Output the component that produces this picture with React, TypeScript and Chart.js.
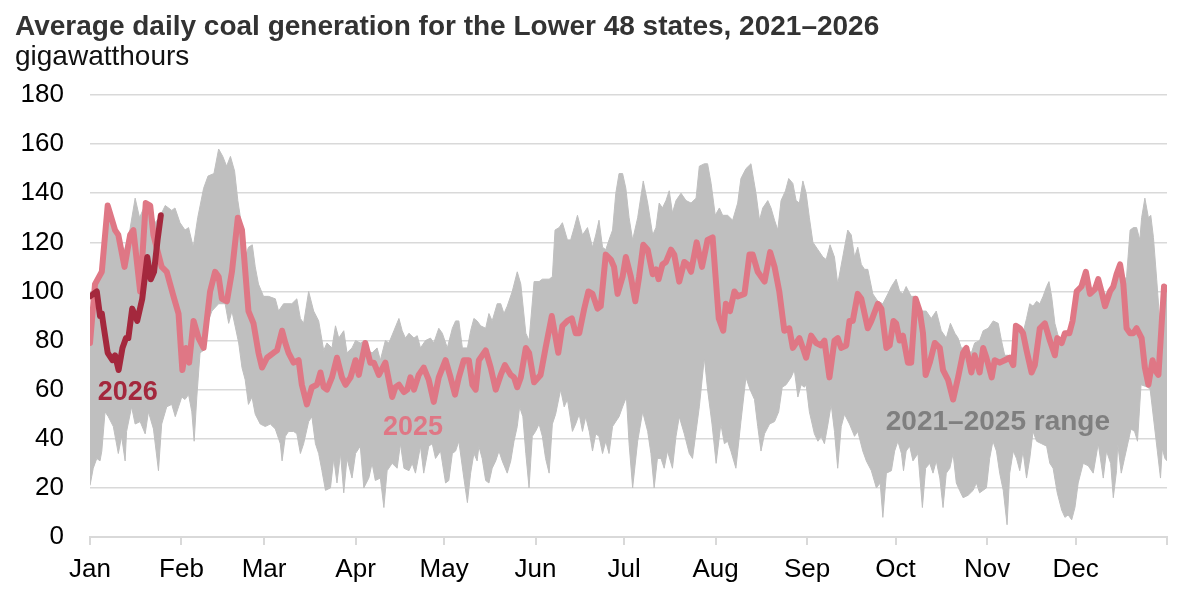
import { useEffect, useRef } from 'react';
import { Chart, registerables } from 'chart.js';

Chart.register(...registerables);

const FONT = '"Liberation Sans", Arial, Helvetica, sans-serif';

const TITLE = 'Average daily coal generation for the Lower 48 states, 2021–2026';
const UNITS = 'gigawatthours';

// day-of-year where each month starts (last one closes the axis)
const monthStarts = [0, 31, 59, 90, 120, 151, 181, 212, 243, 273, 304, 334, 365];
const monthLabels = ['Jan', 'Feb', 'Mar', 'Apr', 'May', 'Jun', 'Jul', 'Aug', 'Sep', 'Oct', 'Nov', 'Dec', ''];

// [day of year, GWh]
const gen2026: [number, number][] = [
  [0, 98], [2.3, 100], [3.4, 90], [4, 91], [4.6, 86], [6, 75], [7.6, 72], [8.5, 74], [9.7, 68], [11, 77],
  [12.2, 81], [13, 81], [14.3, 93], [16, 88], [17.7, 97], [19.4, 114], [20.6, 105], [21.7, 108], [22.9, 121], [24, 131],
];

const gen2025: [number, number][] = [
  [0, 79], [1.7, 103], [4, 108], [6, 135], [8.5, 125], [9.6, 123], [11.7, 110], [13.6, 123], [14.7, 125], [17, 100],
  [18.9, 136], [20.4, 135], [21.5, 123], [24.3, 110], [26, 108], [28.3, 98], [30, 91], [31.3, 68], [32.5, 77], [33.6, 71],
  [35.1, 88], [36.8, 81], [38.5, 77], [40.7, 100], [42.4, 108], [43.6, 106], [44.7, 97], [46.4, 96], [48.1, 108], [50.1, 130],
  [51.5, 125], [53.7, 92], [55.4, 87], [57.1, 75], [58.3, 69], [60, 73], [62.2, 75], [63.4, 76], [65.1, 84], [66.2, 79],
  [67.3, 75], [69, 71], [70.7, 72], [71.8, 62], [73.5, 54], [75.2, 61], [76.9, 62], [78.1, 67], [79.2, 61], [80.3, 60],
  [82, 65], [83.7, 73], [85.4, 65], [86.6, 62], [88.3, 65], [90, 72], [91.1, 66], [93.3, 79], [95, 71], [96.2, 71],
  [97.9, 66], [100.1, 71], [102.4, 57], [103.5, 61], [104.7, 62], [106.4, 59], [107.5, 60], [108.6, 65], [109.8, 60], [111.4, 66],
  [113.1, 69], [114.8, 64], [116.5, 55], [118.2, 65], [120.5, 72], [122.2, 65], [123.7, 58], [125, 65], [126.7, 72], [128.4, 72],
  [129.6, 62], [130.7, 60], [131.8, 72], [134.1, 76], [135.8, 69], [137.5, 60], [139.2, 66], [140.6, 70], [142.6, 66], [143.7, 65],
  [144.8, 61], [146, 65], [147.7, 77], [148.8, 75], [150.5, 63], [152.7, 66], [154.4, 77], [156.5, 90], [158.7, 75], [160.1, 86],
  [161.8, 88], [163.3, 89], [164.6, 83], [165.8, 83], [167.5, 93], [168.9, 100], [170.3, 99], [172, 93], [173.1, 94], [174.8, 115],
  [176.5, 113], [177.6, 110], [178.8, 99], [180.5, 106], [181.6, 114], [183.3, 106], [184.8, 96], [186.1, 106], [187.5, 119], [189, 117],
  [190.7, 107], [191.8, 109], [192.7, 105], [194, 111], [195.2, 112], [196.9, 117], [198, 115], [199.7, 104], [201.4, 112], [202.5, 111],
  [203.7, 108], [205.6, 120], [207.4, 110], [209.3, 121], [211, 122], [213.1, 89], [214.6, 84], [215.5, 95], [216.9, 92], [218.4, 100],
  [219.5, 98], [221.8, 99], [223.5, 115], [224.6, 115], [226.3, 108], [228.6, 104], [230.5, 116], [232, 110], [233.6, 100], [235.3, 84],
  [237, 85], [238.2, 77], [240.4, 81], [241.6, 77], [242.7, 73], [244.4, 82], [246.1, 79], [247.8, 78], [248.9, 80], [250.6, 65],
  [252.3, 80], [253.4, 81], [254.6, 77], [256.3, 78], [257.4, 88], [258.5, 88], [260.2, 99], [261.4, 97], [263.6, 85], [264.8, 88],
  [267, 95], [268.2, 93], [269.9, 77], [271, 78], [272.3, 88], [273.2, 87], [274.4, 80], [275.5, 82], [277.2, 71], [278.3, 71],
  [279.8, 97], [281.2, 92], [282.3, 83], [283.2, 66], [284.6, 71], [286.3, 79], [288, 77], [289.1, 68], [290.8, 64], [292.5, 56],
  [294.2, 65], [295.9, 75], [297, 77], [298.7, 67], [299.8, 74], [301.5, 67], [302.7, 77], [303.8, 73], [305.6, 65], [306.6, 72],
  [308.3, 71], [310, 72], [311.7, 73], [312.9, 70], [313.8, 86], [315.1, 85], [316.2, 83], [317.4, 76], [319.1, 67], [320.2, 70],
  [321.9, 85], [323.6, 87], [325.3, 80], [327, 74], [327.8, 81], [329.3, 79], [330.4, 83], [331.9, 83], [333, 88], [334.4, 100],
  [336, 102], [337.5, 108], [338.9, 99], [340.6, 101], [341.7, 105], [342.8, 100], [344, 94], [345.7, 100], [346.8, 102], [347.9, 107],
  [349.1, 111], [350.2, 103], [351.3, 85], [352.5, 83], [353.6, 83], [354.7, 85], [356.4, 81], [357.5, 69], [358.7, 62], [360.1, 72],
  [360.9, 68], [362.1, 66], [363.2, 87], [364, 102], [365, 101],
];

// 2021–2025 range, top and bottom edges
const rangeHigh: [number, number][] = [
  [0, 80], [1.7, 103], [4, 108], [6, 135], [8.5, 126], [10, 123], [11.5, 116], [13.5, 125], [15.3, 138], [16.8, 130],
  [18.9, 136], [20.4, 135], [22, 128], [23.5, 130], [25.5, 135], [27.7, 133], [28.8, 134], [30.5, 128], [32.2, 125], [33.4, 126],
  [35, 118], [36.5, 130], [38.5, 142], [40, 147], [42, 148], [43.6, 158], [45, 155], [46.3, 151], [47.6, 155], [49, 149],
  [50.1, 137], [51.5, 126], [52.6, 114], [53.7, 118], [55, 119], [56, 110], [57.1, 103], [58.8, 98], [60.5, 98], [62.8, 97],
  [63.9, 92], [65.6, 95], [68.4, 95], [70.1, 97], [71.3, 89], [72.4, 87], [74.1, 100], [75.8, 92], [77.5, 88], [79.2, 76],
  [80.3, 79], [82, 77], [83.2, 86], [84.3, 81], [86, 84], [87.1, 75], [88.8, 77], [90, 80], [91.6, 79], [93.3, 80],
  [93.9, 76], [95.6, 75], [97.3, 77], [98.4, 72], [100.1, 80], [101.3, 79], [103, 84], [104.7, 89], [105.8, 84], [106.9, 81],
  [108.1, 83], [109.8, 81], [110.9, 82], [112, 77], [113.7, 80], [115.4, 81], [116.5, 79], [118.2, 85], [119.4, 83], [121.1, 77],
  [122.8, 85], [123.9, 88], [125, 88], [126.2, 77], [127.9, 77], [129, 84], [130.1, 89], [131.2, 88], [132.4, 86], [134.1, 85],
  [135.2, 91], [136.3, 88], [138, 95], [139.2, 95], [140.3, 91], [141.4, 94], [143.1, 100], [144.8, 108], [146, 103], [147.7, 83],
  [148.8, 80], [150.5, 104], [152.2, 104], [153.3, 105], [155.6, 105], [156.7, 106], [157.6, 125], [159, 126], [160.1, 128], [161.8, 121],
  [162.9, 121], [164.1, 126], [165.2, 131], [166.9, 123], [168.6, 126], [170.3, 118], [171.4, 123], [172.5, 129], [173.7, 118], [174.8, 117],
  [175.9, 121], [177.1, 125], [178.2, 140], [179.3, 148], [180.5, 148], [181.6, 142], [182.7, 130], [183.9, 121], [185.6, 130], [187.5, 145],
  [189, 136], [190.7, 123], [191.8, 126], [192.9, 136], [194, 134], [195.2, 137], [196.3, 141], [197.4, 132], [198.6, 137], [200.3, 140],
  [202, 137], [203.7, 136], [205.4, 138], [206.5, 151], [208.2, 152], [209.3, 152], [210.5, 144], [211.9, 131], [213.3, 134], [214.4, 131],
  [216.1, 131], [217.8, 129], [219.5, 136], [220.6, 146], [222.3, 150], [224, 152], [225.7, 140], [226.9, 129], [228, 134], [229.7, 137],
  [230.8, 134], [232, 129], [233.1, 125], [234.2, 137], [235.7, 141], [236.8, 146], [238.2, 144], [239.3, 137], [240.4, 136], [241.6, 145],
  [242.7, 140], [243.8, 130], [245, 120], [246.7, 117], [248.4, 114], [249.5, 113], [250.8, 119], [252.3, 114], [253.4, 103], [255.1, 114],
  [256.8, 125], [258, 123], [259.1, 114], [260.2, 118], [261.4, 111], [262.5, 109], [263.6, 109], [265.3, 99], [267, 96], [268.7, 95],
  [270.4, 99], [271.6, 102], [273.2, 105], [274.4, 100], [275.5, 99], [276.6, 102], [278.3, 98], [280, 98], [281.2, 92], [283.4, 92],
  [285.1, 89], [286.8, 92], [288.5, 84], [290.2, 81], [291.6, 87], [293.1, 83], [294.2, 81], [295.3, 77], [297, 77], [298.7, 75],
  [299.8, 79], [301.5, 80], [302.7, 84], [304.4, 85], [306.1, 88], [307.8, 87], [308.9, 80], [310, 74], [311.2, 74], [312.6, 72],
  [313.8, 86], [315.1, 86], [316.2, 83], [317.4, 89], [318.5, 95], [319.6, 94], [320.8, 96], [321.9, 95], [323, 98], [324.2, 102],
  [325, 104], [325.9, 98], [327, 87], [328.1, 82], [329.3, 79], [331, 84], [332.1, 85], [333, 88], [334.4, 100], [336, 102],
  [337.5, 108], [338.9, 100], [340.6, 102], [341.7, 106], [343.4, 98], [345, 100], [346.8, 102], [348.2, 108], [349.1, 111], [350.2, 104],
  [351.3, 106], [352.5, 125], [353.6, 126], [354.7, 126], [355.8, 121], [356.4, 130], [357.5, 138], [358.7, 130], [359.5, 131], [360.4, 122],
  [361.5, 105], [362.6, 87], [364, 102], [365, 101],
];

const rangeLow: [number, number][] = [
  [0, 21], [1.1, 28], [2.3, 32], [3.4, 31], [4, 35], [5.1, 51], [6.2, 49], [7.9, 45], [9.6, 34], [10.7, 41],
  [11.9, 31], [12.4, 43], [14.1, 53], [15.3, 46], [17, 47], [18.7, 42], [19.8, 51], [21.5, 44], [23.2, 27], [24.3, 46],
  [26, 53], [27.7, 54], [28.9, 49], [30, 53], [31.1, 57], [32.2, 56], [33.4, 58], [34.5, 51], [35.3, 39], [36.2, 57],
  [37.3, 75], [38.5, 76], [39.5, 86], [41.3, 92], [43.6, 95], [45.8, 95], [47, 87], [48.1, 92], [50.4, 79], [51.5, 69],
  [52.6, 64], [53.7, 54], [54.9, 57], [56, 50], [57.7, 46], [59.4, 45], [61.1, 46], [62.8, 44], [64.5, 38], [65.1, 31],
  [66.2, 41], [67.3, 43], [69, 43], [70.1, 42], [71.3, 34], [72.4, 38], [74.1, 47], [75.2, 49], [76.4, 38], [77.5, 34],
  [78.6, 27], [79.8, 19], [81.5, 20], [82.6, 32], [83.7, 22], [84.9, 34], [86, 18], [87.1, 32], [88.8, 24], [90, 34],
  [91.6, 37], [92.8, 20], [94.5, 24], [95.6, 30], [96.7, 23], [98.4, 24], [99.6, 12], [100.7, 27], [102.4, 30], [104.1, 28],
  [105.2, 38], [106.4, 28], [108.1, 27], [109.2, 30], [110.3, 26], [112, 37], [113.1, 26], [114.8, 37], [116, 38], [117.1, 32],
  [118.8, 35], [120.5, 22], [121.6, 23], [122.8, 34], [123.9, 35], [125, 39], [126.7, 24], [127.9, 14], [129, 26], [130.1, 34],
  [131.2, 31], [131.8, 37], [132.9, 32], [134.1, 23], [135.2, 22], [136.3, 28], [137.5, 31], [138.6, 35], [139.7, 31], [141.4, 26],
  [142.6, 31], [143.7, 39], [144.8, 45], [145.6, 53], [146.7, 49], [147.7, 34], [148.8, 20], [149.9, 41], [151, 43], [152.2, 46],
  [153.3, 41], [154.4, 32], [155.6, 26], [156.7, 46], [157.8, 50], [159.5, 60], [160.7, 53], [161.8, 56], [163.5, 43], [164.6, 46],
  [165.8, 50], [166.9, 43], [168, 49], [169.2, 43], [170.3, 35], [171.4, 42], [172.5, 41], [173.7, 34], [174.8, 39], [175.9, 34],
  [177.1, 45], [178.2, 47], [179.3, 49], [180.5, 53], [181.8, 57], [182.7, 38], [183.9, 20], [185.6, 39], [187.3, 51], [189, 43],
  [190.1, 34], [191.2, 20], [192.3, 32], [193.5, 32], [194.6, 28], [195.7, 35], [197.4, 28], [198.6, 41], [199.7, 49], [201.4, 42],
  [203.1, 34], [204.2, 32], [205.4, 43], [206.5, 53], [208.2, 73], [209.3, 60], [210.8, 46], [212.2, 30], [213.8, 46], [215, 38],
  [216.1, 39], [217.2, 35], [218.9, 28], [220.6, 47], [222.3, 65], [223.7, 60], [225.2, 56], [226.3, 45], [227.4, 35], [228.6, 42],
  [230.3, 46], [232, 47], [233.4, 51], [234.6, 61], [235.9, 62], [237.6, 65], [238.7, 68], [239.9, 57], [241, 62], [242.1, 61],
  [242.7, 62], [243.8, 51], [245.5, 42], [246.7, 39], [247.8, 41], [248.9, 38], [250.1, 46], [251.2, 54], [252.3, 43], [253.4, 28],
  [254.6, 45], [255.7, 50], [257.4, 46], [259.1, 41], [260.2, 43], [261.9, 35], [263.1, 31], [264.8, 27], [266.5, 20], [267.8, 22],
  [268.7, 8], [269.9, 26], [271.6, 27], [272.7, 35], [273.8, 39], [275, 34], [275.7, 27], [276.6, 35], [277.8, 37], [278.9, 31],
  [280.6, 34], [282.1, 12], [283.2, 28], [284.6, 30], [285.7, 26], [286.8, 31], [288, 24], [289.1, 12], [290.2, 26], [291.4, 28],
  [292.5, 34], [293.6, 22], [294.7, 19], [295.9, 16], [297.6, 17], [299.3, 19], [300.4, 22], [301.5, 18], [303.8, 20], [304.9, 32],
  [306, 39], [307.2, 35], [308.3, 26], [309.5, 19], [310.8, 5], [311.7, 26], [312.9, 35], [314, 32], [315.1, 27], [316.2, 35],
  [317.4, 24], [318.5, 32], [319.6, 43], [320.8, 39], [322.5, 38], [324.2, 37], [325.3, 30], [326.4, 28], [327.8, 18], [329.3, 11],
  [330.4, 8], [331.5, 9], [332.7, 7], [333.8, 12], [334.9, 22], [336.6, 30], [338.3, 29], [340, 26], [341.7, 38], [343.4, 24],
  [344.5, 35], [345.9, 30], [346.8, 16], [347.9, 27], [348.3, 38], [349.5, 26], [350.6, 32], [352.8, 44], [354, 43], [355, 39],
  [356.2, 62], [358.5, 61], [359.3, 60], [362.8, 24], [363.4, 36], [364.3, 32], [365, 31],
];

const pts = (rows: [number, number][]) => rows.map(([x, y]) => ({ x, y }));

const textPlugin = {
  id: 'coalText',
  afterDatasetsDraw(chart: any) {
    const { ctx, scales } = chart;
    const put = (text: string, day: number, val: number, color: string, size: number) => {
      ctx.font = `bold ${size}px ${FONT}`;
      ctx.fillStyle = color;
      ctx.fillText(text, scales.x.getPixelForValue(day), scales.y.getPixelForValue(val));
    };
    ctx.save();
    ctx.textAlign = 'left';
    ctx.textBaseline = 'alphabetic';
    put('2026', 2.65, 55.7, '#a4283d', 27);
    put('2025', 99.3, 41.5, '#df7785', 27);
    put('2021–2025 range', 269.7, 43.5, '#7f7f7f', 28);
    ctx.restore();
  },
  afterDraw(chart: any) {
    const { ctx } = chart;
    ctx.save();
    ctx.textAlign = 'left';
    ctx.textBaseline = 'alphabetic';
    ctx.font = `bold 28px ${FONT}`;
    ctx.fillStyle = '#333333';
    ctx.fillText(TITLE, 15, 35);
    ctx.font = `28px ${FONT}`;
    ctx.fillStyle = '#111111';
    ctx.fillText(UNITS, 15, 65);
    ctx.restore();
  },
};

export default function App() {
  const canvasRef = useRef<HTMLCanvasElement>(null);

  useEffect(() => {
    if (!canvasRef.current) return;
    const chart = new Chart(canvasRef.current, {
      type: 'line',
      data: {
        datasets: [
          {
            label: '2026',
            data: pts(gen2026),
            borderColor: '#a4283d',
            borderWidth: 6,
            pointRadius: 0,
            borderJoinStyle: 'round',
            borderCapStyle: 'round',
            tension: 0,
            fill: false,
          },
          {
            label: '2025',
            data: pts(gen2025),
            borderColor: '#df7785',
            borderWidth: 6,
            pointRadius: 0,
            borderJoinStyle: 'round',
            borderCapStyle: 'round',
            tension: 0,
            fill: false,
          },
          {
            label: 'range high',
            data: pts(rangeHigh),
            borderColor: '#bfbfbf',
            borderWidth: 1,
            pointRadius: 0,
            tension: 0,
            backgroundColor: '#bfbfbf',
            fill: '+1',
          },
          {
            label: 'range low',
            data: pts(rangeLow),
            borderColor: '#bfbfbf',
            borderWidth: 1,
            pointRadius: 0,
            tension: 0,
            fill: false,
          },
        ],
      },
      options: {
        animation: false,
        responsive: true,
        maintainAspectRatio: false,
        layout: { padding: { top: 95, right: 33, left: 0, bottom: 0 } },
        plugins: {
          legend: { display: false },
          tooltip: { enabled: false },
        },
        scales: {
          x: {
            type: 'linear',
            min: 0,
            max: 365,
            afterBuildTicks: (axis: any) => {
              axis.ticks = monthStarts.map((value) => ({ value }));
            },
            afterFit: (axis: any) => {
              axis.height = 64;
            },
            ticks: {
              autoSkip: false,
              maxRotation: 0,
              padding: 9,
              color: '#000000',
              font: { family: FONT, size: 26 },
              callback: (v: any) => monthLabels[monthStarts.indexOf(Number(v))] ?? '',
            },
            grid: { drawOnChartArea: false, drawTicks: true, tickLength: 8, color: '#d9d9d9', lineWidth: 2 },
            border: { display: true, color: '#d9d9d9', width: 2 },
          },
          y: {
            min: 0,
            max: 180,
            afterFit: (axis: any) => {
              axis.width = 90;
            },
            ticks: {
              stepSize: 20,
              padding: 26,
              color: '#000000',
              font: { family: FONT, size: 26 },
            },
            grid: { color: '#d9d9d9', lineWidth: 1.5, drawTicks: false },
            border: { display: false },
          },
        },
      },
      plugins: [textPlugin],
    });
    return () => chart.destroy();
  }, []);

  return (
    <div style={{ position: 'absolute', left: 0, top: 0, width: 1200, height: 601, background: '#ffffff' }}>
      <canvas ref={canvasRef} />
    </div>
  );
}
